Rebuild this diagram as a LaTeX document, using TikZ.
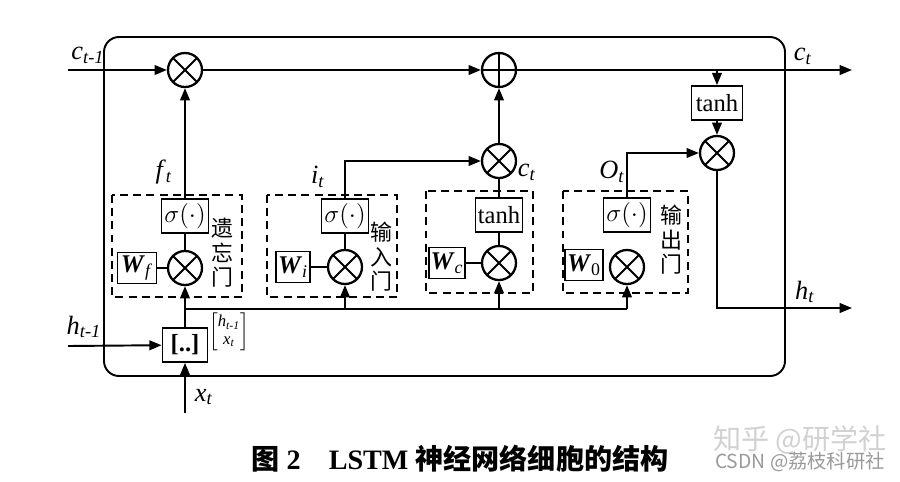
\documentclass[tikz,border=0pt]{standalone}
\usepackage{amsmath}
\usepackage{fontspec}
\setmainfont{Liberation Serif}
\newfontfamily\cjk{Noto Sans CJK SC}
\usetikzlibrary{arrows.meta, positioning, calc}
\newcommand{\subvar}[2]{\textit{#1}\textsubscript{\textit{#2}}}
\newcommand{\wmat}[1]{\textbf{\textit{W}}\textsubscript{#1}}

\begin{document}
\begin{tikzpicture}[x=0.02cm, y=-0.02cm,
  wire/.style={line width=1.1pt},
  arr/.style={line width=1.1pt, -{Triangle[length=7pt, width=5.5pt]}},
  opbox/.style={draw, line width=1pt, minimum width=0.94cm, minimum height=0.68cm,
                inner sep=1pt, font=\fontsize{14}{16}\selectfont},
  wbox/.style={draw, line width=1pt, minimum width=0.64cm, minimum height=0.62cm,
               inner sep=1pt, font=\fontsize{14.5}{16}\selectfont},
  prodnode/.style={circle, draw, line width=1.3pt, minimum size=0.68cm, inner sep=0pt,
    path picture={\draw[line width=1.1pt]
      (path picture bounding box.north west) -- (path picture bounding box.south east)
      (path picture bounding box.north east) -- (path picture bounding box.south west);}},
  sumnode/.style={circle, draw, line width=1.3pt, minimum size=0.68cm, inner sep=0pt,
    path picture={\draw[line width=1.1pt]
      (path picture bounding box.north) -- (path picture bounding box.south)
      (path picture bounding box.west) -- (path picture bounding box.east);}},
  gatebox/.style={draw, line width=1pt, dash pattern=on 4.5pt off 3pt},
  cellbox/.style={draw, line width=1.1pt, rounded corners=0.3cm},
  lbl/.style={inner sep=0pt, font=\fontsize{15}{17}\selectfont},
  gname/.style={inner sep=0pt, align=center, font=\cjk\fontsize{12.5}{14}\selectfont}
]
  \useasboundingbox (0,0) rectangle (900,481);

  % cell and gates
  \draw[cellbox] (104,37) rectangle (785,376);
  \draw[gatebox] (112,195) rectangle (242,297);
  \draw[gatebox] (267,195) rectangle (397,297);
  \draw[gatebox] (426,191) rectangle (533,293);
  \draw[gatebox] (563,191) rectangle (688,293);

  % cell state line
  \coordinate (cprev) at (68,70);
  \node[prodnode] (cmulf) at (185,70) {};
  \node[sumnode] (csum) at (499,70) {};
  \coordinate (cnext) at (852,70);

  % forget gate
  \node[opbox] (fsig) at (185,216) {$\sigma(\cdot)$};
  \node[prodnode] (fmul) at (185,268) {};
  \node[wbox, minimum width=0.78cm] (wf) at (137,268) {\wmat{\textit{f}}};
  \node[gname] (fname) at (222,253) {遗\\忘\\门};

  % input gate
  \node[opbox] (isig) at (345,216) {$\sigma(\cdot)$};
  \node[prodnode] (imul) at (345,267) {};
  \node[wbox] (wi) at (293,267) {\wmat{\textit{i}}};
  \node[gname] (iname) at (381,257) {输\\入\\门};

  % candidate
  \node[opbox] (ctanh) at (499,215) {tanh};
  \node[prodnode] (cmulw) at (499,263) {};
  \node[wbox] (wc) at (447,263) {\wmat{\textit{c}}};
  \node[prodnode] (cmuli) at (499,161) {};

  % output gate
  \node[opbox] (osig) at (627,215) {$\sigma(\cdot)$};
  \node[prodnode] (omul) at (627,267) {};
  \node[wbox] (wo) at (584,265) {\wmat{0}};
  \node[gname] (oname) at (671,240) {输\\出\\门};

  % hidden output
  \node[opbox, minimum width=1.02cm] (htanh) at (717,103) {tanh};
  \node[prodnode] (hmul) at (717,153) {};
  \coordinate (hnext) at (852,308);

  % inputs
  \node[draw, line width=1pt, minimum width=0.9cm, minimum height=0.68cm,
        font=\bfseries\fontsize{14}{16}\selectfont] (cat) at (185,345) {[..]};
  \coordinate (hprev) at (68,346);
  \coordinate (xin) at (185,413);
  \coordinate (bus) at (185,309);
  \coordinate (busend) at (627,309);

  % labels
  \node[lbl] (lcprev) at (88,55) {\subvar{c}{t-1}};
  \node[lbl] (lcnext) at (803,56) {\subvar{c}{t}};
  \node[lbl] (lhnext) at (805,292) {\subvar{h}{t}};
  \node[lbl] (lhprev) at (84,327) {\subvar{h}{t-1}};
  \node[lbl] (lxin) at (204,397) {\subvar{x}{t}};
  \node[lbl] (lf) at (164,172) {\subvar{f}{t}};
  \node[lbl] (li) at (318,177) {\subvar{i}{t}};
  \node[lbl] (lc) at (527,172) {\subvar{c}{t}};
  \node[lbl] (lo) at (612,172) {\subvar{O}{t}};
  \node[inner sep=0pt, font=\fontsize{9.5}{10}\selectfont] (lcat) at (229,332)
    {$\left[\begin{tabular}{@{}c@{}}\subvar{h}{t-1}\\\subvar{x}{t}\end{tabular}\right]$};

  % connectors
  \draw[arr] (cprev) -- (cmulf);
  \draw[arr] (cmulf) -- (csum);
  \draw[arr] (csum) -- (cnext);
  \draw[arr] (htanh |- csum) -- (htanh);
  \draw[arr] (htanh) -- (hmul);
  \draw[arr] (hmul) |- (hnext);
  \draw[arr] (fsig) -- (cmulf);
  \draw[wire] (fmul) -- (fsig);
  \draw[wire] (wf) -- (fmul);
  \draw[arr] (isig) |- (cmuli);
  \draw[wire] (imul) -- (isig);
  \draw[wire] (wi) -- (imul);
  \draw[wire] (cmulw) -- (ctanh);
  \draw[wire] (ctanh) -- (cmuli);
  \draw[wire] (wc) -- (cmulw);
  \draw[arr] (cmuli) -- (csum);
  \draw[arr] (osig) |- (hmul);
  \draw[arr] (hprev) -- (cat);
  \draw[arr] (xin) -- (cat);
  \draw[arr] (cat) -- (fmul);
  \draw[wire] (bus) -- (busend);
  \draw[arr] (imul |- bus) -- (imul);
  \draw[arr] (cmulw |- bus) -- (cmulw);
  \draw[arr] (omul |- bus) -- (omul);

  % caption and marks
  \node[font=\bfseries\fontsize{16}{18}\selectfont] (caption) at (460,459)
    {{\cjk 图} 2\quad LSTM {\cjk 神经网络细胞的结构}};
  \node[text=black!18, font=\cjk\fontsize{16}{18}\selectfont] (mark1) at (800,440) {知乎 @研学社};
  \node[text=black!40, font=\cjk\fontsize{11}{13}\selectfont] (mark2) at (800,462) {CSDN @荔枝科研社};
\end{tikzpicture}
\end{document}
